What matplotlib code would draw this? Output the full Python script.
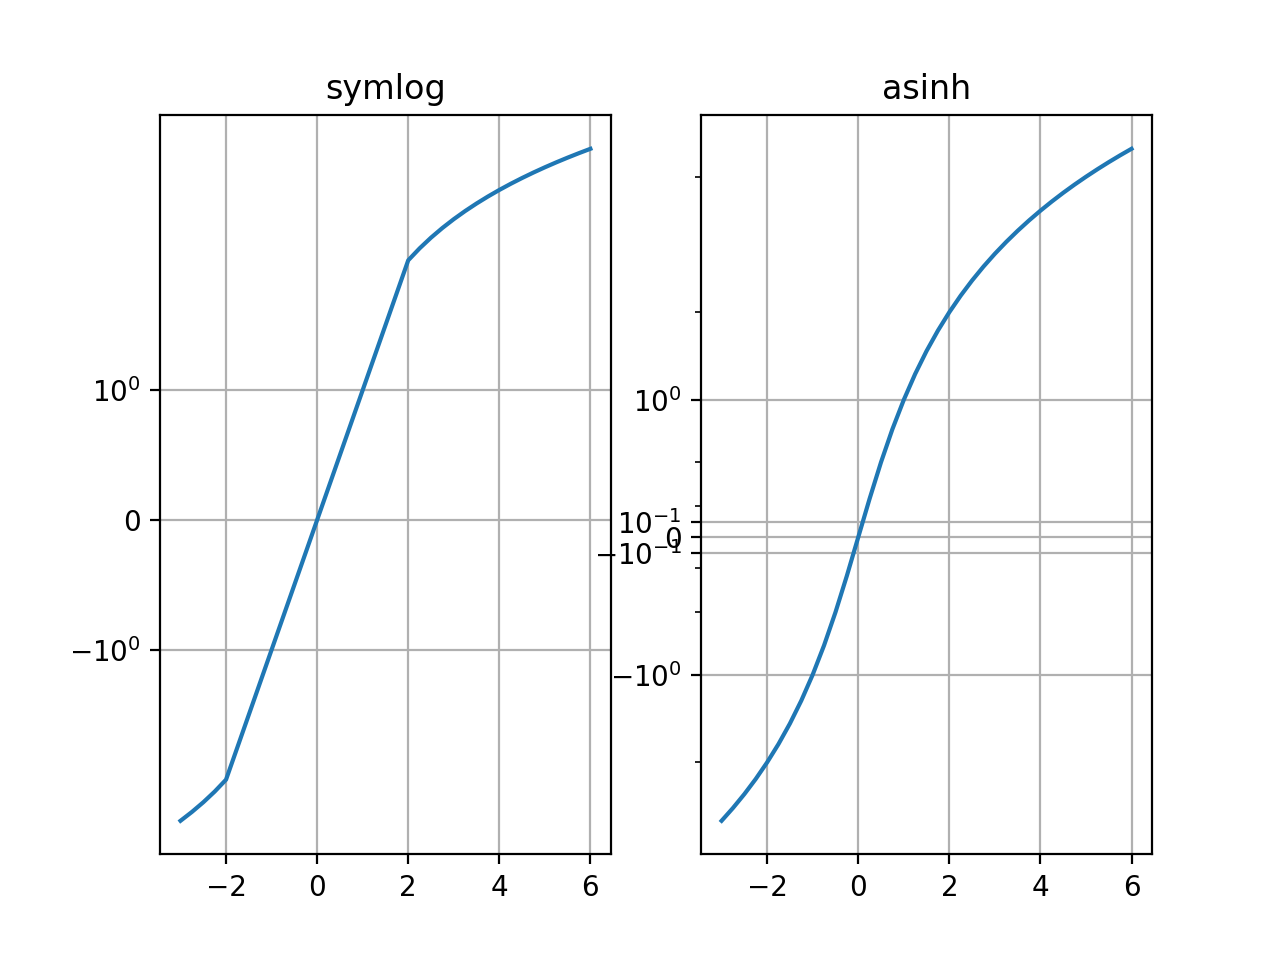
import matplotlib
matplotlib.use("Agg")
import matplotlib.pyplot as plt
import numpy as np

# Sample values for the y = x graph
x_values = [-3.0, -2.75, -2.5, -2.25, -2.0, -1.75, -1.5, -1.25, -1.0, -0.75,
            -0.5, -0.25, 0.0, 0.25, 0.5, 0.75, 1.0, 1.25, 1.5, 1.75, 2.0,
            2.25, 2.5, 2.75, 3.0, 3.25, 3.5, 3.75, 4.0, 4.25, 4.5, 4.75,
            5.0, 5.25, 5.5, 5.75, 6.0]
y_values = list(x_values)

titles = ["symlog", "asinh"]
scales = ["symlog", "asinh"]

fig = plt.figure(figsize=(6.4, 4.8), dpi=200)
axes = fig.subplots(1, 2, sharex=True)

for ax, title, scale in zip(axes, titles, scales):
    ax.plot(x_values, y_values)
    ax.set_yscale(scale)
    ax.grid()
    ax.set_title(title)

fig.savefig("out.png", dpi=200)
